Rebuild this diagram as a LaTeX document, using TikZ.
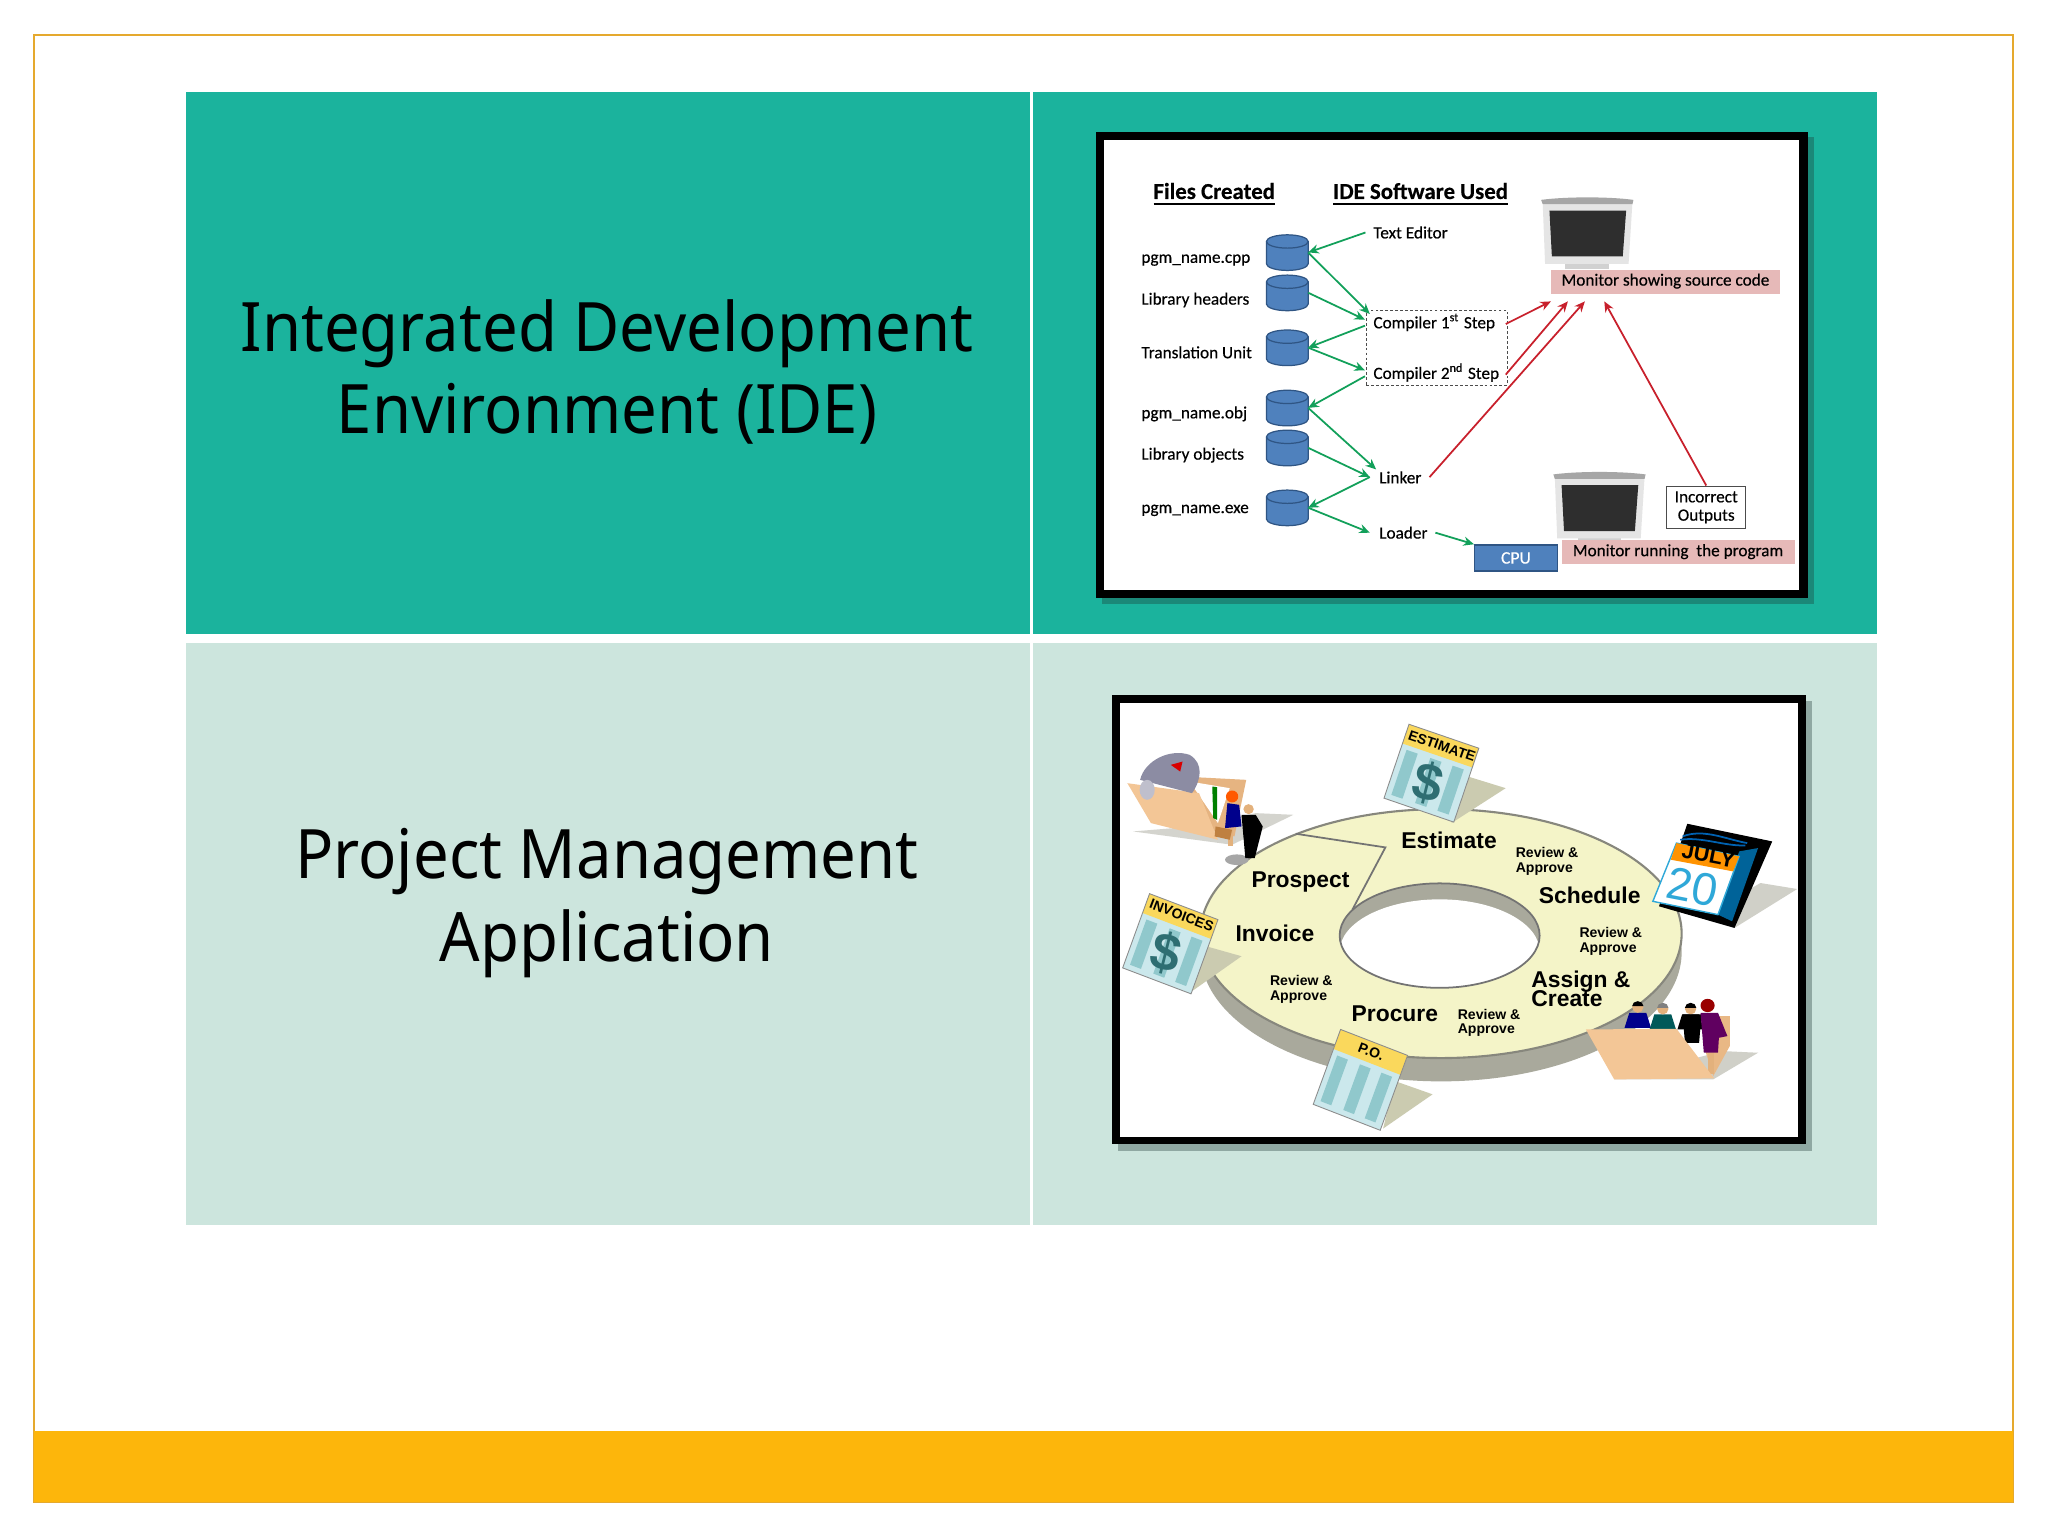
\documentclass[tikz,border=0pt]{standalone}
\usepackage{fontspec}
\setmainfont{Noto Sans}[FakeStretch=0.93]
\newfontfamily\labelfont{Carlito}[FakeBold=0.4]
\newfontfamily\artfont{Liberation Sans}
\usetikzlibrary{arrows.meta}
\definecolor{bandcol}{HTML}{FDB60B}
\definecolor{edgecol}{HTML}{E5A92E}
\definecolor{rowa}{HTML}{1BB39D}
\definecolor{rowb}{HTML}{CCE5DD}
\definecolor{shadea}{HTML}{1B8878}
\definecolor{shadeb}{HTML}{8FA8A2}
\definecolor{cylcol}{HTML}{4F81BD}
\definecolor{cyledge}{HTML}{2F5584}
\definecolor{arrowg}{HTML}{12A05A}
\definecolor{arrowr}{HTML}{C8202C}
\definecolor{pinkcol}{HTML}{E6B9B8}
\definecolor{ringcol}{HTML}{F4F4C8}
\definecolor{wallcol}{HTML}{A9A99C}
\definecolor{sheetcol}{HTML}{CBE8EC}
\definecolor{barcol}{HTML}{90C8CC}
\definecolor{headcol}{HTML}{FAD85C}
\definecolor{tancol}{HTML}{F3C696}
\definecolor{dollarcol}{HTML}{2E6E72}
\definecolor{daycol}{HTML}{2FA8D8}
\newcommand{\sheetat}[2]{({\ox+(#1)*\ux+(#2)*\vx},{\oy+(#1)*\uy+(#2)*\vy})}
\tikzset{
  celltitle/.style={align=center,font=\fontsize{19.4}{23.4}\selectfont},
  filelabel/.style={anchor=west,inner sep=0pt,font=\labelfont\fontsize{4.9}{5.2}\selectfont},
  headlabel/.style={anchor=west,inner sep=0pt,font=\labelfont\bfseries\fontsize{6.5}{7}\selectfont},
  cylbox/.style={inner sep=0pt,outer sep=0pt,minimum width=86*0.138pt,minimum height=108*0.0948pt},
  greenarrow/.style={draw=arrowg,line width=0.5pt,-{Stealth[length=3pt,width=2.6pt]}},
  redarrow/.style={draw=arrowr,line width=0.5pt,-{Stealth[length=3pt,width=2.6pt]}},
  pinkbox/.style={fill=pinkcol,inner sep=0pt,font=\labelfont\fontsize{4.9}{5.8}\selectfont},
  bigart/.style={inner sep=0pt,font=\artfont\bfseries\fontsize{6.5}{5.4}\selectfont,align=left},
  smallart/.style={inner sep=0pt,font=\artfont\bfseries\fontsize{4}{4.2}\selectfont,align=left},
  tagart/.style={inner sep=0pt,font=\artfont\bfseries\fontsize{4}{5}\selectfont},
  ideart/.style={shift={(1080,120)},x=0.004847cm,y=-0.003333cm},
  ringart/.style={shift={(1100,680)},x=0.004719cm,y=-0.003333cm},
}
\begin{document}
\begin{tikzpicture}[x=0.01cm,y=-0.01cm]
  \useasboundingbox (0,0) rectangle (2048,1536);
  \fill[white] (0,0) rectangle (2048,1536);
  % slide frame
  \draw[edgecol,line width=0.6pt] (34,35) rectangle (2013,1502);
  \fill[bandcol] (34,1431) rectangle (2013,1502);
  % table
  \fill[rowa] (186,92) rectangle (1030,634);
  \fill[rowa] (1033,92) rectangle (1877,634);
  \fill[rowb] (186,643) rectangle (1030,1225);
  \fill[rowb] (1033,643) rectangle (1877,1225);
  \node[celltitle] (ideTitle) at (607,372) {Integrated Development\\Environment (IDE)};
  \node[celltitle] (pmaTitle) at (607,903) {Project Management\\Application};

  % compile chain picture
  \begin{scope}[ideart]
    \fill[shadea] (45,52) rectangle (1512,1455);
    \fill[black] (33,37) rectangle (1500,1437);
    \fill[white] (50,60) rectangle (1482,1412);
    \node[headlabel] (filesHead) at (150,224) {\underline{Files Created}};
    \node[headlabel] (ideHead) at (520,224) {\underline{IDE Software Used}};
    % files
    \node[filelabel] (cppLabel) at (125,421) {pgm\_name.cpp};
    \node[filelabel] (hdrLabel) at (125,541) {Library headers};
    \node[filelabel] (unitLabel) at (125,698) {Translation Unit};
    \node[filelabel] (objLabel) at (125,883) {pgm\_name.obj};
    \node[filelabel] (libLabel) at (125,1007) {Library objects};
    \node[filelabel] (exeLabel) at (125,1173) {pgm\_name.exe};
    \foreach \cname/\cy in {cppCyl/398,hdrCyl/519,unitCyl/684,objCyl/865,libCyl/985,exeCyl/1165} {
      \node[cylbox] (\cname) at (427,\cy) {};
      \draw[cyledge,fill=cylcol,line width=0.35pt] (384,\cy+34) arc [start angle=180,end angle=0,x radius=43,y radius=20]
        -- (470,\cy-33) arc [start angle=0,end angle=-180,x radius=43,y radius=20] -- cycle;
      \draw[cyledge,line width=0.35pt] (384,\cy-33) arc [start angle=180,end angle=0,x radius=43,y radius=20];
    }
    % software
    \node[filelabel] (editor) at (603,338) {Text Editor};
    \node[filelabel] (compA) at (603,608) {Compiler 1\textsuperscript{st} Step};
    \node[filelabel] (compB) at (603,759) {Compiler 2\textsuperscript{nd} Step};
    \node[filelabel] (linker) at (615,1074) {Linker};
    \node[filelabel] (loader) at (615,1240) {Loader};
    \node[draw=black!70,dash pattern=on 0.8pt off 0.6pt,line width=0.3pt,inner sep=0pt,minimum width=290*0.138pt,minimum height=225*0.0948pt] (compBox) at (735,684.5) {};
    \node[draw=cyledge,fill=cylcol,text=white,inner sep=0pt,minimum width=170*0.138pt,minimum height=78*0.0948pt,font=\labelfont\fontsize{5}{6}\selectfont] (cpu) at (898,1316) {CPU};
    \node[draw=black!70,fill=white,line width=0.3pt,align=center,inner sep=0pt,minimum width=163*0.138pt,minimum height=128*0.0948pt] [font=\labelfont\fontsize{4.9}{5.2}\selectfont] (wrongOut) at (1290,1164) {Incorrect\\Outputs};
    % monitors
    \foreach \mx/\my in {0/0,25/825} {
      \begin{scope}[shift={(\mx,\my)}]
        \fill[black!18] (1000,425) rectangle (1090,448);
        \fill[black!10] (953,245) -- (1138,245) -- (1130,432) -- (958,432) -- cycle;
        \fill[black!35] (950,240) .. controls (1000,230) and (1090,230) .. (1140,240) -- (1138,253) -- (953,253) -- cycle;
        \fill[black!82] (967,272) -- (1125,272) -- (1118,410) -- (972,410) -- cycle;
      \end{scope}
    }
    \node[pinkbox,minimum width=473*0.138pt,minimum height=72*0.0948pt,text height=3.4pt,text depth=1.2pt] (srcMon) at (1206,486) {Monitor showing source code};
    \node[pinkbox,minimum width=480*0.138pt,minimum height=72*0.0948pt,text height=3.4pt,text depth=1.2pt] (runMon) at (1232,1299) {Monitor running\ \ the program};
    % free arrow ends
    \coordinate (compInA) at (597,583);
    \coordinate (compInB) at (587,600);
    \coordinate (compOutA) at (587,618);
    \coordinate (compInC) at (587,752);
    \coordinate (compOutB) at (587,770);
    \coordinate (linkInA) at (610,1050);
    \coordinate (linkInB) at (597,1073);
    \coordinate (loadIn) at (597,1240);
    \coordinate (monInA) at (970,545);
    \coordinate (monInB) at (1005,545);
    \coordinate (monInC) at (1040,545);
    \coordinate (monInD) at (1080,545);
    \coordinate (editorOut) at (588,338);
    \coordinate (loaderOut) at (732,1240);
    \coordinate (compOutR) at (877,613);
    \coordinate (compOutS) at (877,765);
    \coordinate (linkOut) at (720,1073);
    \draw[greenarrow] (editorOut) -- (cppCyl.east);
    \draw[greenarrow] (cppCyl.east) -- (compInA);
    \draw[greenarrow] (hdrCyl.east) -- (compInB);
    \draw[greenarrow] (compOutA) -- (unitCyl.east);
    \draw[greenarrow] (unitCyl.east) -- (compInC);
    \draw[greenarrow] (compOutB) -- (objCyl.east);
    \draw[greenarrow] (objCyl.east) -- (linkInA);
    \draw[greenarrow] (libCyl.east) -- (linkInB);
    \draw[greenarrow] (linkInB) -- (exeCyl.east);
    \draw[greenarrow] (exeCyl.east) -- (loadIn);
    \draw[greenarrow] (loaderOut) -- (cpu.north west);
    \draw[redarrow] (compOutR) -- (monInA);
    \draw[redarrow] (compOutS) -- (monInB);
    \draw[redarrow] (linkOut) -- (monInC);
    \draw[redarrow] (wrongOut.north) -- (monInD);
  \end{scope}

  % project cycle picture
  \begin{scope}[ringart]
    \fill[shadeb] (38,63) rectangle (1510,1415);
    \fill[black] (25,45) rectangle (1497,1395);
    \fill[white] (42,70) rectangle (1480,1372);
    % ring
    \fill[wallcol] (723,818) ellipse [x radius=510,y radius=388];
    \draw[wallcol!80!black,fill=ringcol,line width=0.6pt] (723,762) ellipse [x radius=510,y radius=374];
    \begin{scope}
      \clip (720,768) ellipse [x radius=212,y radius=157];
      \fill[wallcol] (500,600) rectangle (940,930);
      \fill[white] (720,816) ellipse [x radius=212,y radius=157];
    \end{scope}
    \draw[black!55,line width=0.5pt] (720,768) ellipse [x radius=212,y radius=157];
    \draw[black!55,line width=0.5pt] (415,462) -- (605,503) -- (535,690);
    % sheet shadows
    \fill[wallcol!55!ringcol] (780,290) -- (860,325) -- (745,430) -- cycle;
    \fill[wallcol!55!ringcol] (225,800) -- (300,830) -- (190,940) -- cycle;
    \fill[wallcol!55!ringcol] (625,1205) -- (705,1245) -- (600,1348) -- cycle;
    % sheets
    \foreach \ox/\oy/\ux/\uy/\vx/\vy in {655/133/148/72/-53/222,105/642/145/78/-57/223,510/1050/142/78/-58/225} {
      \fill[sheetcol] \sheetat{0}{0} -- \sheetat{1}{0} -- \sheetat{1}{1} -- \sheetat{0}{1} -- cycle;
      \foreach \bx in {0.08,0.42,0.74} {
        \fill[barcol] \sheetat{\bx}{0.32} -- \sheetat{\bx+0.16}{0.32} -- \sheetat{\bx+0.16}{0.93} -- \sheetat{\bx}{0.93} -- cycle;
      }
      \fill[headcol] \sheetat{0}{0} -- \sheetat{1}{0} -- \sheetat{1}{0.26} -- \sheetat{0}{0.26} -- cycle;
      \draw[black!45,line width=0.25pt] \sheetat{0}{0} -- \sheetat{1}{0} -- \sheetat{1}{1} -- \sheetat{0}{1} -- cycle;
    }
    \node[tagart,rotate=-19] (estimateTag) at (725,198) {ESTIMATE};
    \node[tagart,rotate=-21] (invoiceTag) at (173,707) {INVOICES};
    \node[tagart,rotate=-21] (poTag) at (575,1117) {P.O.};
    \node[text=dollarcol,inner sep=0pt,rotate=-14,font=\artfont\bfseries\fontsize{15}{15}\selectfont] (estimateSign) at (695,310) {\$};
    \node[text=dollarcol,inner sep=0pt,rotate=-14,font=\artfont\bfseries\fontsize{15}{15}\selectfont] (invoiceSign) at (140,820) {\$};
    % calendar
    \fill[wallcol!55!white] (1400,610) -- (1478,628) -- (1345,745) -- (1290,700) -- cycle;
    \fill[black] (1245,432) -- (1425,485) -- (1345,745) -- (1185,680) -- cycle;
    \fill[blue!35!cyan!60!black] (1355,515) -- (1395,505) -- (1340,725) -- (1310,705) -- cycle;
    \draw[daycol,fill=white,line width=0.4pt] (1222,490) -- (1355,530) -- (1310,705) -- (1172,665) -- cycle;
    \fill[orange!85!yellow] (1222,490) -- (1355,530) -- (1342,575) -- (1210,540) -- cycle;
    \draw[blue!45!cyan!70!black,line width=0.5pt] (1235,470) .. controls (1280,445) and (1330,480) .. (1372,490);
    \draw[blue!45!cyan!70!black,line width=0.5pt] (1230,480) .. controls (1275,470) and (1325,500) .. (1368,497);
    \node[inner sep=0pt,rotate=-11,font=\artfont\bfseries\fontsize{6.2}{7}\selectfont] (julyTag) at (1290,527) {JULY};
    \node[inner sep=0pt,rotate=-11,text=daycol,font=\artfont\fontsize{13}{13}\selectfont] (dayTag) at (1256,622) {20};
    % folder with mailbox, top left
    \fill[wallcol!50!white] (70,455) -- (280,495) -- (410,405) -- (330,400) -- (200,440) -- cycle;
    \fill[tancol!75!brown] (175,290) -- (310,300) -- (285,470) -- (200,440) -- cycle;
    \fill[white] (190,305) -- (275,325) -- (250,430) -- cycle;
    \fill[green!50!black] (238,320) -- (248,322) -- (248,420) -- (240,415) -- cycle;
    \fill[tancol] (58,310) -- (210,340) -- (250,480) -- (108,430) -- cycle;
    \fill[blue!20!black!45] (85,300) .. controls (95,240) and (150,205) .. (190,225) .. controls (220,250) and (215,300) .. (195,340) -- cycle;
    \fill[blue!20!black!25] (100,330) ellipse [x radius=16,y radius=30];
    \fill[red!85!black] (150,255) -- (175,245) -- (170,275) -- cycle;
    \fill[blue!55!black] (270,370) -- (295,375) -- (300,440) -- (265,445) -- cycle;
    \fill[tancol!70!brown] (272,445) rectangle (282,500);
    \fill[orange!70!red] (280,350) ellipse [x radius=13,y radius=18];
    \fill[brown] (245,440) -- (280,450) -- (275,480) -- (243,470) -- cycle;
    \fill[black!35] (290,540) ellipse [x radius=25,y radius=16];
    \fill[black] (300,405) -- (330,405) -- (345,440) -- (328,535) -- (308,535) -- cycle;
    \fill[tancol!70!brown] (315,388) ellipse [x radius=11,y radius=15];
    % people with folder, bottom right
    \fill[wallcol!55!white] (1090,1200) -- (1300,1200) -- (1395,1120) -- (1320,1115) -- cycle;
    \fill[tancol!80!brown] (1300,1010) -- (1335,1010) -- (1335,1100) -- (1300,1190) -- (1280,1100) -- cycle;
    \foreach \px/\py/\suit/\hair in {1140/980/blue!55!black/black,1193/985/teal!70!black/gray,1252/985/black/black} {
      \fill[\suit] (\px-28,\py+65) -- (\px-18,\py+20) -- (\px+18,\py+20) -- (\px+28,\py+65) -- cycle;
      \fill[tancol!70!brown] (\px,\py+3) ellipse [x radius=12,y radius=17];
      \fill[\hair] (\px-12,\py) arc [start angle=180,end angle=360,x radius=12,y radius=15] -- cycle;
    }
    \fill[black] (1235,1005) -- (1275,1005) -- (1270,1090) -- (1240,1090) -- cycle;
    \fill[violet!75!black] (1273,1000) -- (1310,1000) -- (1330,1070) -- (1312,1075) -- (1310,1120) -- (1280,1120) -- cycle;
    \fill[tancol!70!brown] (1288,1120) rectangle (1302,1185);
    \fill[red!60!black] (1288,978) ellipse [x radius=15,y radius=20];
    \fill[tancol] (1030,1050) -- (1222,1048) -- (1302,1197) -- (1090,1200) -- cycle;
    % labels
    \node[bigart] (estimateLabel) at (740,482) {Estimate};
    \node[bigart] (scheduleLabel) at (1038,648) {Schedule};
    \node[bigart] (prospectLabel) at (425,608) {Prospect};
    \node[bigart] (invoiceLabel) at (371,760) {Invoice};
    \node[bigart] (procureLabel) at (625,1003) {Procure};
    \node[bigart,anchor=north west] (assignLabel) at (913,873) {Assign \&\\[-1.5pt]Create};
    \node[smallart,anchor=north west] (reviewA) at (880,500) {Review \&\\Approve};
    \node[smallart,anchor=north west] (reviewB) at (1015,741) {Review \&\\Approve};
    \node[smallart,anchor=north west] (reviewC) at (757,986) {Review \&\\Approve};
    \node[smallart,anchor=north west] (reviewD) at (359,885) {Review \&\\Approve};
  \end{scope}
\end{tikzpicture}
\end{document}
